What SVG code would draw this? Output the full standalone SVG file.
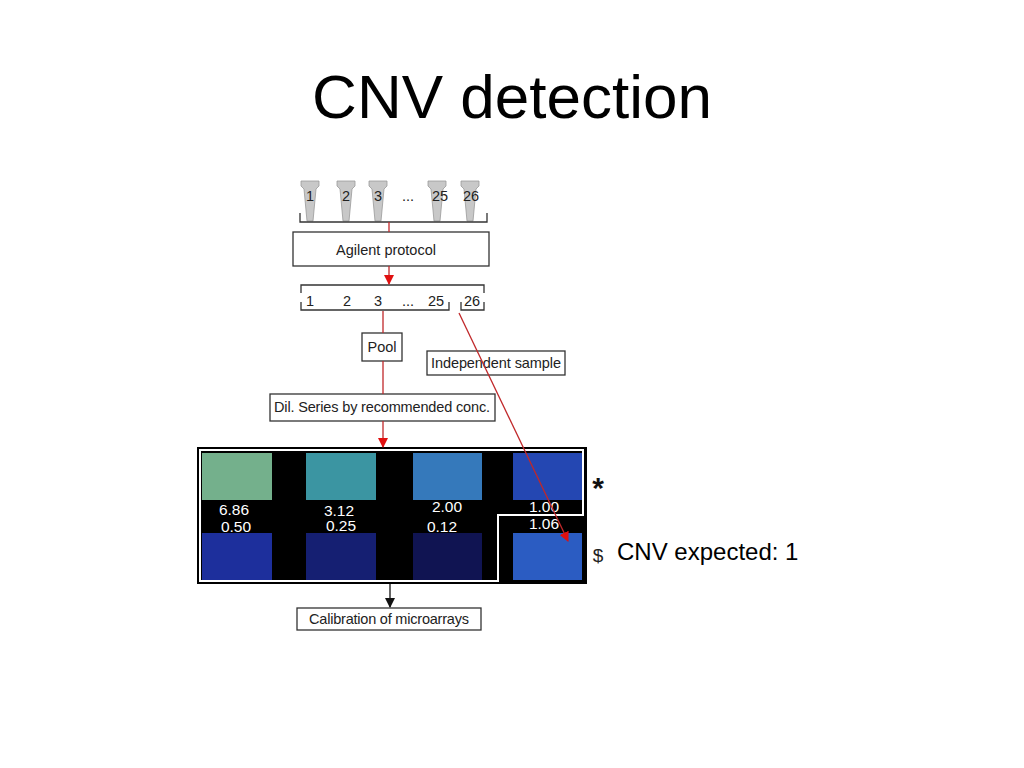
<svg xmlns="http://www.w3.org/2000/svg" width="1024" height="768" viewBox="0 0 1024 768">
<style>
text{font-family:"Liberation Sans",Arial,sans-serif}
.b{fill:#fff;stroke:#333;stroke-width:1.3}
.l{font-size:14.5px;fill:#222}
.n{font-size:15.5px;fill:#fff;text-anchor:middle}
.br{fill:none;stroke:#333;stroke-width:1.3}
.r{stroke:#c0282a;stroke-width:1.3;fill:none}
.tube{fill:#c8c8c8;stroke:#999;stroke-width:0.8}
</style>
<defs>
<marker id="ar" markerWidth="10" markerHeight="10" refX="9" refY="5" orient="auto" markerUnits="userSpaceOnUse"><path d="M0,0 L10,5 L0,10z" fill="#e01010"/></marker>
<marker id="ak" markerWidth="10" markerHeight="10" refX="9" refY="5" orient="auto" markerUnits="userSpaceOnUse"><path d="M0,0 L10,5 L0,10z" fill="#111"/></marker>
</defs>
<rect width="1024" height="768" fill="#fff"/>
<text x="512" y="118" font-size="62" text-anchor="middle" fill="#000">CNV detection</text>
<g id="tubes">
<path class="tube" d="M301,181h18v5l-3,3l-3,32h-6l-3,-32l-3,-3z"/>
<path class="tube" d="M337,181h18v5l-3,3l-3,32h-6l-3,-32l-3,-3z"/>
<path class="tube" d="M369,181h18v5l-3,3l-3,32h-6l-3,-32l-3,-3z"/>
<path class="tube" d="M428,181h18v5l-3,3l-3,32h-6l-3,-32l-3,-3z"/>
<path class="tube" d="M461,181h18v5l-3,3l-3,32h-6l-3,-32l-3,-3z"/>
<text class="l" x="310" y="201" text-anchor="middle">1</text>
<text class="l" x="346" y="201" text-anchor="middle">2</text>
<text class="l" x="378" y="201" text-anchor="middle">3</text>
<text class="l" x="408" y="201" text-anchor="middle">...</text>
<text class="l" x="440" y="201" text-anchor="middle">25</text>
<text class="l" x="471" y="201" text-anchor="middle">26</text>
<path class="br" d="M300,213v9h187v-9"/>
</g>
<g id="agilent"><rect class="b" x="293" y="232" width="196" height="34"/><text class="l" x="386" y="255" text-anchor="middle">Agilent protocol</text></g>
<g id="samples">
<path class="br" d="M301,293v-8h183v8"/>
<path class="br" d="M301,302v8h148v-8M461,302v8h23v-8"/>
<text class="l" x="310" y="306" text-anchor="middle">1</text>
<text class="l" x="347" y="306" text-anchor="middle">2</text>
<text class="l" x="378" y="306" text-anchor="middle">3</text>
<text class="l" x="408" y="306" text-anchor="middle">...</text>
<text class="l" x="436" y="306" text-anchor="middle">25</text>
<text class="l" x="472" y="306" text-anchor="middle">26</text>
</g>
<g id="pool"><rect class="b" x="362" y="333" width="40" height="28"/><text class="l" x="382" y="352" text-anchor="middle">Pool</text></g>
<g id="indep"><rect class="b" x="427" y="351" width="138" height="24"/><text class="l" x="496" y="368" text-anchor="middle" textLength="130">Independent sample</text></g>
<g id="dil"><rect class="b" x="270" y="394" width="225" height="27"/><text class="l" x="382" y="412" text-anchor="middle" textLength="216">Dil. Series by recommended conc.</text></g>
<g id="array">
<rect x="197" y="447" width="390" height="137" fill="#000"/>
<rect x="202" y="453" width="70" height="47" fill="#74b08c"/>
<rect x="306" y="453" width="70" height="47" fill="#3b95a2"/>
<rect x="413" y="453" width="69" height="47" fill="#3579bb"/>
<rect x="513" y="453" width="69" height="47" fill="#2447b2"/>
<rect x="202" y="533" width="70" height="47" fill="#1d2f9c"/>
<rect x="306" y="533" width="70" height="47" fill="#151f72"/>
<rect x="413" y="533" width="69" height="47" fill="#101452"/>
<rect x="513" y="533" width="69" height="47" fill="#2b5cc2"/>
<path d="M200,450H583V515H498V581H200z" fill="none" stroke="#fff" stroke-width="2"/>
<text class="n" x="234" y="515">6.86</text><text class="n" x="339" y="516">3.12</text><text class="n" x="447" y="512">2.00</text><text class="n" x="544" y="512">1.00</text>
<text class="n" x="236" y="532">0.50</text><text class="n" x="341" y="531">0.25</text><text class="n" x="442" y="532">0.12</text><text class="n" x="544" y="529">1.06</text>
</g>
<g id="calib"><rect class="b" x="297" y="608" width="184" height="22"/><text class="l" x="389" y="624" text-anchor="middle" textLength="160">Calibration of microarrays</text></g>
<g id="notes">
<text x="598" y="498" font-size="30" font-weight="bold" text-anchor="middle" fill="#111">*</text>
<text x="598" y="562" font-size="19" text-anchor="middle" fill="#222">$</text>
<text x="617" y="560" font-size="24" fill="#000">CNV expected: 1</text>
</g>
<g id="connectors">
<line class="r" x1="389" y1="222" x2="389" y2="232"/>
<line class="r" x1="389" y1="266" x2="389" y2="284" marker-end="url(#ar)"/>
<line class="r" x1="383" y1="311" x2="383" y2="333"/>
<line class="r" x1="383" y1="361" x2="383" y2="394"/>
<line class="r" x1="383" y1="421" x2="383" y2="447" marker-end="url(#ar)"/>
<line class="r" x1="459" y1="313" x2="568" y2="541" marker-end="url(#ar)"/>
<line x1="390" y1="584" x2="390" y2="607" stroke="#111" stroke-width="1.3" marker-end="url(#ak)"/>
</g>
</svg>
